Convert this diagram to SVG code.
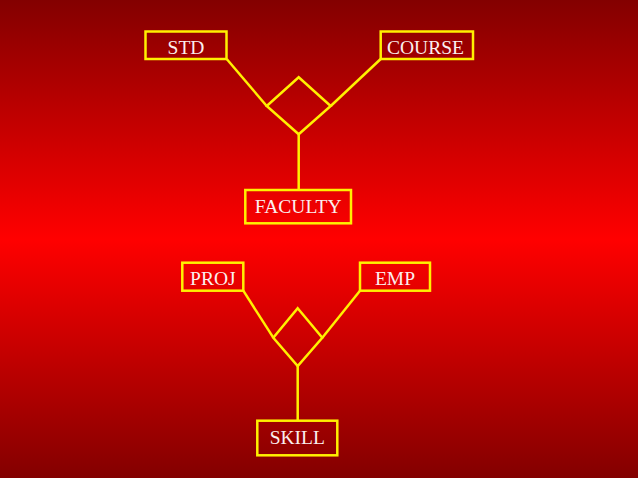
<svg xmlns="http://www.w3.org/2000/svg" width="638" height="478" viewBox="0 0 638 478">
<defs>
<linearGradient id="bg" x1="0" y1="0" x2="0" y2="1">
<stop offset="0" stop-color="#830000"/>
<stop offset="0.5" stop-color="#FF0000"/>
<stop offset="1" stop-color="#830000"/>
</linearGradient>
<style>
.box{fill:none;stroke:#FFF000;stroke-width:2.5}
.ln{fill:none;stroke:#FFF000;stroke-width:2.5}
.t{font-family:"Liberation Serif","Times New Roman",serif;font-size:19.5px;fill:#FBEFEF;text-anchor:middle}
</style>
</defs>
<rect width="638" height="478" fill="url(#bg)"/>
<g id="connectors">
<line class="ln" x1="226.7" y1="59" x2="266.7" y2="106"/>
<line class="ln" x1="380.7" y1="59" x2="330.7" y2="106"/>
<line class="ln" x1="298.7" y1="134.3" x2="298.7" y2="190"/>
<line class="ln" x1="243.3" y1="290.7" x2="273.3" y2="337.7"/>
<line class="ln" x1="360" y1="290.7" x2="322.3" y2="337.7"/>
<line class="ln" x1="297.7" y1="366" x2="297.7" y2="420.7"/>
</g>
<g id="rel1"><polygon class="box" points="298.7,77.3 330.7,106 298.7,134.3 266.7,106"/></g>
<g id="rel2"><polygon class="box" points="297.7,308.3 322.3,337.7 297.7,366 273.3,337.7"/></g>
<g id="std"><rect class="box" x="145.5" y="31.5" width="81" height="27.5"/><text class="t" x="186" y="54">STD</text></g>
<g id="course"><rect class="box" x="380.7" y="31.5" width="92.3" height="27.5"/><text class="t" x="425.5" y="54">COURSE</text></g>
<g id="faculty"><rect class="box" x="245.3" y="190" width="105.7" height="33.3"/><text class="t" x="298.2" y="213">FACULTY</text></g>
<g id="proj"><rect class="box" x="182.3" y="262.7" width="61" height="28"/><text class="t" x="212.8" y="285">PROJ</text></g>
<g id="emp"><rect class="box" x="360" y="262.7" width="70" height="28"/><text class="t" x="395" y="285">EMP</text></g>
<g id="skill"><rect class="box" x="257.3" y="420.7" width="80" height="34.6"/><text class="t" x="297.3" y="443.8">SKILL</text></g>
</svg>
